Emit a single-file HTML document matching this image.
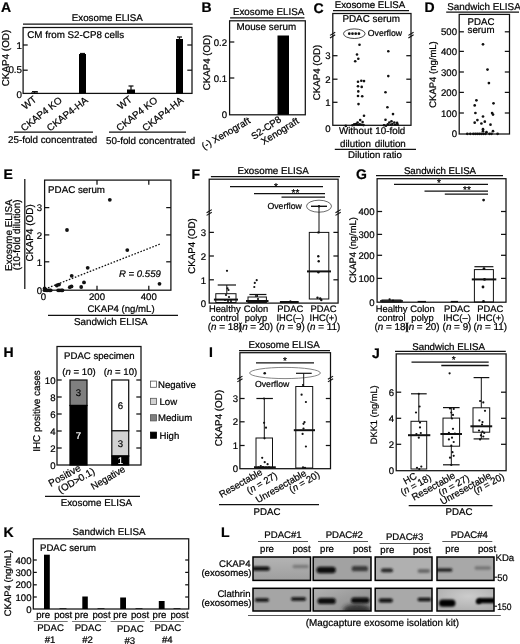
<!DOCTYPE html>
<html lang="en"><head><meta charset="utf-8"><title>Figure</title>
<style>
html,body{margin:0;padding:0;background:#fff;}
body{width:520px;height:644px;overflow:hidden;}
svg{display:block;font-family:"Liberation Sans",Arial,Helvetica,sans-serif;text-rendering:geometricPrecision;}
svg text{stroke:#000;stroke-width:0.22px;}

</style></head><body>
<svg width="520" height="644" viewBox="0 0 520 644">
<rect x="0" y="0" width="520" height="644" fill="#fff" stroke="none"/>
<text x="1.0" y="12.3" font-size="14" font-weight="bold">A</text>
<text x="107.3" y="21.4" font-size="9.75" text-anchor="middle">Exosome ELISA</text>
<line x1="23.0" y1="24.1" x2="192.6" y2="24.1" stroke="#111" stroke-width="1.25" />
<rect x="23.1" y="27.5" width="168.9" height="65.9" fill="none" stroke="#111" stroke-width="1.25"/>
<text x="27.3" y="37.7" font-size="9.8">CM from S2-CP8 cells</text>
<text x="9.0" y="58.0" font-size="9.9" text-anchor="middle" transform="rotate(-90 9.0 58.0)">CKAP4 (OD)</text>
<line x1="23.0" y1="45.0" x2="27.7" y2="45.0" stroke="#111" stroke-width="1.25" />
<line x1="187.3" y1="45.0" x2="192.0" y2="45.0" stroke="#111" stroke-width="1.25" />
<line x1="23.0" y1="70.2" x2="27.7" y2="70.2" stroke="#111" stroke-width="1.25" />
<line x1="187.3" y1="70.2" x2="192.0" y2="70.2" stroke="#111" stroke-width="1.25" />
<text x="22.0" y="48.6" font-size="9.8" text-anchor="end">1</text>
<text x="22.0" y="73.2" font-size="9.8" text-anchor="end">0.5</text>
<text x="22.0" y="97.5" font-size="9.8" text-anchor="end">0</text>
<rect x="79.0" y="54.0" width="7.0" height="39.5" fill="#000" stroke="none" stroke-width="1.25"/>
<line x1="80.0" y1="53.5" x2="85.0" y2="53.5" stroke="#111" stroke-width="1.25" />
<rect x="31.0" y="92.5" width="7.0" height="1.0" fill="#000" stroke="none" stroke-width="1.25"/>
<line x1="34.5" y1="91.5" x2="34.5" y2="93.0" stroke="#111" stroke-width="1.25" />
<line x1="32.0" y1="91.6" x2="37.8" y2="91.6" stroke="#111" stroke-width="1.25" />
<rect x="127.0" y="89.5" width="8.0" height="4.0" fill="#000" stroke="none" stroke-width="1.25"/>
<line x1="131.0" y1="86.0" x2="131.0" y2="90.0" stroke="#111" stroke-width="1.25" />
<line x1="128.5" y1="86.0" x2="133.5" y2="86.0" stroke="#111" stroke-width="1.25" />
<rect x="176.0" y="39.0" width="7.0" height="54.5" fill="#000" stroke="none" stroke-width="1.25"/>
<line x1="179.5" y1="37.0" x2="179.5" y2="40.0" stroke="#111" stroke-width="1.25" />
<line x1="177.0" y1="37.0" x2="182.0" y2="37.0" stroke="#111" stroke-width="1.25" />
<text x="37.3" y="100.5" font-size="9.8" text-anchor="end" transform="rotate(-38 37.3 100.5)">WT</text>
<text x="62.7" y="101.5" font-size="9.8" text-anchor="end" transform="rotate(-38 62.7 101.5)">CKAP4 KO</text>
<text x="88.7" y="101.5" font-size="9.8" text-anchor="end" transform="rotate(-38 88.7 101.5)">CKAP4-HA</text>
<text x="132.8" y="100.5" font-size="9.8" text-anchor="end" transform="rotate(-38 132.8 100.5)">WT</text>
<text x="158.2" y="101.5" font-size="9.8" text-anchor="end" transform="rotate(-38 158.2 101.5)">CKAP4 KO</text>
<text x="184.2" y="101.5" font-size="9.8" text-anchor="end" transform="rotate(-38 184.2 101.5)">CKAP4-HA</text>
<line x1="14.0" y1="132.0" x2="93.0" y2="132.0" stroke="#111" stroke-width="1.25" />
<line x1="109.0" y1="132.0" x2="186.0" y2="132.0" stroke="#111" stroke-width="1.25" />
<text x="8.0" y="143.0" font-size="9.8">25-fold concentrated</text>
<text x="106.0" y="143.5" font-size="9.8">50-fold concentrated</text>
<text x="201.5" y="11.9" font-size="14" font-weight="bold">B</text>
<text x="268.6" y="14.7" font-size="9.8" text-anchor="middle">Exosome ELISA</text>
<line x1="230.1" y1="17.9" x2="304.5" y2="17.9" stroke="#111" stroke-width="1.25" />
<rect x="229.6" y="20.8" width="75.7" height="94.0" fill="none" stroke="#111" stroke-width="1.25"/>
<text x="266.3" y="29.6" font-size="9.85" text-anchor="middle">Mouse serum</text>
<text x="209.5" y="62.5" font-size="9.7" text-anchor="middle" transform="rotate(-90 209.5 62.5)">CKAP4 (OD)</text>
<line x1="229.6" y1="42.0" x2="234.3" y2="42.0" stroke="#111" stroke-width="1.25" />
<line x1="229.6" y1="78.0" x2="234.3" y2="78.0" stroke="#111" stroke-width="1.25" />
<text x="227.0" y="45.5" font-size="9.6" text-anchor="end">0.2</text>
<text x="227.0" y="81.5" font-size="9.6" text-anchor="end">0.1</text>
<text x="227.0" y="118.3" font-size="9.6" text-anchor="end">0</text>
<rect x="277.5" y="35.5" width="11.5" height="79.3" fill="#000" stroke="none" stroke-width="1.25"/>
<text x="251.0" y="122.5" font-size="9.7" text-anchor="end" transform="rotate(-30 251.0 122.5)">(-) Xenograft</text>
<text x="282.0" y="121.0" font-size="9.7" text-anchor="end" transform="rotate(-34 282.0 121.0)">S2-CP8</text>
<text x="299.5" y="122.7" font-size="9.7" text-anchor="end" transform="rotate(-32 299.5 122.7)">Xenograft</text>
<text x="313.5" y="12.5" font-size="14" font-weight="bold">C</text>
<text x="370.0" y="7.5" font-size="9.7" text-anchor="middle">Exosome ELISA</text>
<line x1="333.0" y1="10.6" x2="409.0" y2="10.6" stroke="#111" stroke-width="1.25" />
<rect x="332.8" y="13.5" width="78.2" height="111.8" fill="none" stroke="#111" stroke-width="1.25"/>
<text x="371.2" y="22.4" font-size="9.9" text-anchor="middle">PDAC serum</text>
<text x="319.5" y="72.5" font-size="9.7" text-anchor="middle" transform="rotate(-90 319.5 72.5)">CKAP4 (OD)</text>
<line x1="332.8" y1="55.7" x2="337.5" y2="55.7" stroke="#111" stroke-width="1.25" />
<line x1="406.3" y1="55.7" x2="411.0" y2="55.7" stroke="#111" stroke-width="1.25" />
<line x1="332.8" y1="79.2" x2="337.5" y2="79.2" stroke="#111" stroke-width="1.25" />
<line x1="406.3" y1="79.2" x2="411.0" y2="79.2" stroke="#111" stroke-width="1.25" />
<line x1="332.8" y1="102.3" x2="337.5" y2="102.3" stroke="#111" stroke-width="1.25" />
<line x1="406.3" y1="102.3" x2="411.0" y2="102.3" stroke="#111" stroke-width="1.25" />
<line x1="330.0" y1="35.4" x2="335.2" y2="32.2" stroke="#111" stroke-width="1.1" />
<line x1="330.0" y1="38.0" x2="335.2" y2="34.8" stroke="#111" stroke-width="1.1" />
<line x1="408.4" y1="35.4" x2="413.6" y2="32.2" stroke="#111" stroke-width="1.1" />
<line x1="408.4" y1="38.0" x2="413.6" y2="34.8" stroke="#111" stroke-width="1.1" />
<text x="330.6" y="59.3" font-size="9.6" text-anchor="end">3</text>
<text x="330.6" y="82.8" font-size="9.6" text-anchor="end">2</text>
<text x="330.6" y="106.0" font-size="9.6" text-anchor="end">1</text>
<text x="330.6" y="131.6" font-size="9.6" text-anchor="end">0</text>
<ellipse cx="354.3" cy="33.7" rx="10.8" ry="4.8" fill="none" stroke="#333" stroke-width="0.9"/>
<circle cx="349.3" cy="33.7" r="1.35" fill="#111"/>
<circle cx="352.5" cy="33.7" r="1.35" fill="#111"/>
<circle cx="355.7" cy="33.7" r="1.35" fill="#111"/>
<circle cx="358.9" cy="33.7" r="1.35" fill="#111"/>
<text x="367.8" y="35.8" font-size="8.7">Overflow</text>
<circle cx="359.5" cy="44.8" r="1.3" fill="#111"/>
<circle cx="357.0" cy="54.5" r="1.3" fill="#111"/>
<circle cx="358.3" cy="58.8" r="1.3" fill="#111"/>
<circle cx="355.2" cy="61.2" r="1.3" fill="#111"/>
<circle cx="358.0" cy="81.7" r="1.3" fill="#111"/>
<circle cx="361.3" cy="80.8" r="1.3" fill="#111"/>
<circle cx="364.0" cy="81.1" r="1.3" fill="#111"/>
<circle cx="358.0" cy="86.2" r="1.3" fill="#111"/>
<circle cx="361.7" cy="86.9" r="1.3" fill="#111"/>
<circle cx="358.3" cy="91.4" r="1.3" fill="#111"/>
<circle cx="358.0" cy="96.0" r="1.3" fill="#111"/>
<circle cx="362.2" cy="96.2" r="1.3" fill="#111"/>
<circle cx="358.5" cy="104.1" r="1.3" fill="#111"/>
<circle cx="364.0" cy="115.7" r="1.3" fill="#111"/>
<circle cx="360.2" cy="120.1" r="1.3" fill="#111"/>
<circle cx="362.6" cy="122.0" r="1.3" fill="#111"/>
<circle cx="357.6" cy="122.5" r="1.3" fill="#111"/>
<circle cx="354.2" cy="124.4" r="1.3" fill="#111"/>
<circle cx="356.0" cy="124.0" r="1.3" fill="#111"/>
<circle cx="358.0" cy="124.7" r="1.3" fill="#111"/>
<circle cx="359.8" cy="124.4" r="1.3" fill="#111"/>
<circle cx="361.7" cy="124.7" r="1.3" fill="#111"/>
<circle cx="352.4" cy="125.3" r="1.3" fill="#111"/>
<circle cx="363.5" cy="125.1" r="1.3" fill="#111"/>
<circle cx="345.8" cy="125.9" r="1.3" fill="#111"/>
<circle cx="388.3" cy="51.3" r="1.3" fill="#111"/>
<circle cx="388.3" cy="76.1" r="1.3" fill="#111"/>
<circle cx="385.5" cy="92.3" r="1.3" fill="#111"/>
<circle cx="387.4" cy="107.2" r="1.3" fill="#111"/>
<circle cx="393.0" cy="114.1" r="1.3" fill="#111"/>
<circle cx="385.5" cy="119.7" r="1.3" fill="#111"/>
<circle cx="391.5" cy="121.2" r="1.3" fill="#111"/>
<circle cx="389.3" cy="122.5" r="1.3" fill="#111"/>
<circle cx="394.3" cy="122.5" r="1.3" fill="#111"/>
<circle cx="397.1" cy="122.9" r="1.3" fill="#111"/>
<circle cx="387.8" cy="124.4" r="1.3" fill="#111"/>
<circle cx="390.6" cy="124.7" r="1.3" fill="#111"/>
<circle cx="392.4" cy="124.0" r="1.3" fill="#111"/>
<circle cx="395.2" cy="124.7" r="1.3" fill="#111"/>
<circle cx="397.5" cy="124.4" r="1.3" fill="#111"/>
<circle cx="384.0" cy="125.3" r="1.3" fill="#111"/>
<circle cx="386.0" cy="125.7" r="1.3" fill="#111"/>
<text x="355.5" y="134.4" font-size="9.8" text-anchor="middle">Without</text>
<text x="390.3" y="134.4" font-size="9.8" text-anchor="middle">10-fold</text>
<text x="355.5" y="147.0" font-size="9.8" text-anchor="middle">dilution</text>
<text x="390.3" y="147.0" font-size="9.8" text-anchor="middle">dilution</text>
<line x1="334.8" y1="149.3" x2="416.0" y2="149.3" stroke="#111" stroke-width="1.25" />
<text x="375.0" y="157.7" font-size="9.7" text-anchor="middle">Dilution ratio</text>
<text x="424.5" y="11.6" font-size="14" font-weight="bold">D</text>
<text x="447.2" y="9.5" font-size="9.9">Sandwich ELISA</text>
<line x1="446.2" y1="12.1" x2="519.0" y2="12.1" stroke="#111" stroke-width="1.25" />
<rect x="459.2" y="14.4" width="50.3" height="119.6" fill="none" stroke="#111" stroke-width="1.25"/>
<text x="481.0" y="24.9" font-size="9.7" text-anchor="middle">PDAC</text>
<text x="481.0" y="32.6" font-size="9.7" text-anchor="middle">serum</text>
<text x="436.0" y="74.5" font-size="9.5" text-anchor="middle" transform="rotate(-90 436.0 74.5)">CKAP4 (ng/mL)</text>
<line x1="459.2" y1="31.8" x2="463.9" y2="31.8" stroke="#111" stroke-width="1.25" />
<line x1="504.8" y1="31.8" x2="509.5" y2="31.8" stroke="#111" stroke-width="1.25" />
<line x1="459.2" y1="51.4" x2="463.9" y2="51.4" stroke="#111" stroke-width="1.25" />
<line x1="504.8" y1="51.4" x2="509.5" y2="51.4" stroke="#111" stroke-width="1.25" />
<line x1="459.2" y1="72.0" x2="463.9" y2="72.0" stroke="#111" stroke-width="1.25" />
<line x1="504.8" y1="72.0" x2="509.5" y2="72.0" stroke="#111" stroke-width="1.25" />
<line x1="459.2" y1="92.4" x2="463.9" y2="92.4" stroke="#111" stroke-width="1.25" />
<line x1="504.8" y1="92.4" x2="509.5" y2="92.4" stroke="#111" stroke-width="1.25" />
<line x1="459.2" y1="113.0" x2="463.9" y2="113.0" stroke="#111" stroke-width="1.25" />
<line x1="504.8" y1="113.0" x2="509.5" y2="113.0" stroke="#111" stroke-width="1.25" />
<text x="457.0" y="35.3" font-size="9.6" text-anchor="end">500</text>
<text x="457.0" y="54.9" font-size="9.6" text-anchor="end">400</text>
<text x="457.0" y="75.5" font-size="9.6" text-anchor="end">300</text>
<text x="457.0" y="95.9" font-size="9.6" text-anchor="end">200</text>
<text x="457.0" y="116.5" font-size="9.6" text-anchor="end">100</text>
<text x="457.0" y="137.3" font-size="9.6" text-anchor="end">0</text>
<circle cx="483.0" cy="44.3" r="1.35" fill="#111"/>
<circle cx="487.5" cy="69.6" r="1.35" fill="#111"/>
<circle cx="488.9" cy="83.1" r="1.35" fill="#111"/>
<circle cx="476.4" cy="100.3" r="1.35" fill="#111"/>
<circle cx="493.5" cy="103.3" r="1.35" fill="#111"/>
<circle cx="474.7" cy="105.4" r="1.35" fill="#111"/>
<circle cx="475.4" cy="113.0" r="1.35" fill="#111"/>
<circle cx="492.1" cy="113.0" r="1.35" fill="#111"/>
<circle cx="493.0" cy="114.6" r="1.35" fill="#111"/>
<circle cx="483.0" cy="116.5" r="1.35" fill="#111"/>
<circle cx="477.4" cy="120.1" r="1.35" fill="#111"/>
<circle cx="474.7" cy="122.7" r="1.35" fill="#111"/>
<circle cx="484.8" cy="121.7" r="1.35" fill="#111"/>
<circle cx="481.4" cy="123.5" r="1.35" fill="#111"/>
<circle cx="490.5" cy="124.7" r="1.35" fill="#111"/>
<circle cx="483.0" cy="129.2" r="1.35" fill="#111"/>
<circle cx="483.0" cy="131.2" r="1.35" fill="#111"/>
<circle cx="493.0" cy="131.2" r="1.35" fill="#111"/>
<circle cx="486.5" cy="132.2" r="1.35" fill="#111"/>
<circle cx="467.3" cy="133.8" r="1.35" fill="#111"/>
<circle cx="470.3" cy="133.8" r="1.35" fill="#111"/>
<circle cx="473.3" cy="133.8" r="1.35" fill="#111"/>
<circle cx="475.4" cy="133.8" r="1.35" fill="#111"/>
<circle cx="477.4" cy="133.8" r="1.35" fill="#111"/>
<circle cx="479.4" cy="133.8" r="1.35" fill="#111"/>
<circle cx="481.4" cy="133.8" r="1.35" fill="#111"/>
<circle cx="483.4" cy="133.8" r="1.35" fill="#111"/>
<circle cx="485.5" cy="133.8" r="1.35" fill="#111"/>
<circle cx="489.5" cy="133.8" r="1.35" fill="#111"/>
<circle cx="491.5" cy="133.8" r="1.35" fill="#111"/>
<circle cx="497.6" cy="133.8" r="1.35" fill="#111"/>
<text x="3.5" y="178.7" font-size="14" font-weight="bold">E</text>
<line x1="24.8" y1="179.0" x2="24.8" y2="289.0" stroke="#111" stroke-width="1.25" />
<text x="11.8" y="235.2" font-size="9.85" text-anchor="middle" transform="rotate(-90 11.8 235.2)">Exosome ELISA</text>
<text x="20.2" y="234.8" font-size="9.9" text-anchor="middle" transform="rotate(-90 20.2 234.8)">(10-fold dilution)</text>
<text x="33.3" y="232.8" font-size="10" text-anchor="middle" transform="rotate(-90 33.3 232.8)">CKAP4 (OD)</text>
<rect x="44.6" y="180.1" width="126.3" height="110.1" fill="none" stroke="#111" stroke-width="1.25"/>
<line x1="44.6" y1="207.6" x2="49.3" y2="207.6" stroke="#111" stroke-width="1.25" />
<line x1="166.2" y1="207.6" x2="170.9" y2="207.6" stroke="#111" stroke-width="1.25" />
<line x1="44.6" y1="234.9" x2="49.3" y2="234.9" stroke="#111" stroke-width="1.25" />
<line x1="166.2" y1="234.9" x2="170.9" y2="234.9" stroke="#111" stroke-width="1.25" />
<line x1="44.6" y1="261.8" x2="49.3" y2="261.8" stroke="#111" stroke-width="1.25" />
<line x1="166.2" y1="261.8" x2="170.9" y2="261.8" stroke="#111" stroke-width="1.25" />
<line x1="97.0" y1="180.0" x2="97.0" y2="184.7" stroke="#111" stroke-width="1.25" />
<line x1="97.0" y1="285.8" x2="97.0" y2="290.5" stroke="#111" stroke-width="1.25" />
<line x1="148.8" y1="180.0" x2="148.8" y2="184.7" stroke="#111" stroke-width="1.25" />
<line x1="148.8" y1="285.8" x2="148.8" y2="290.5" stroke="#111" stroke-width="1.25" />
<text x="42.0" y="211.0" font-size="9.6" text-anchor="end">3</text>
<text x="42.0" y="238.5" font-size="9.6" text-anchor="end">2</text>
<text x="42.0" y="265.5" font-size="9.6" text-anchor="end">1</text>
<text x="42.0" y="294.0" font-size="9.6" text-anchor="end">0</text>
<text x="43.5" y="300.3" font-size="9.6" text-anchor="middle">0</text>
<text x="97.0" y="299.5" font-size="9.6" text-anchor="middle">200</text>
<text x="148.8" y="299.5" font-size="9.6" text-anchor="middle">400</text>
<text x="48.1" y="193.3" font-size="9.75">PDAC serum</text>
<line x1="45.0" y1="289.0" x2="160.7" y2="243.8" stroke="#111" stroke-width="1.3" stroke-dasharray="1.6 1.6"/>
<text x="119.0" y="276.5" font-size="9.6" font-style="italic">R = 0.559</text>
<circle cx="109.8" cy="199.8" r="1.9" fill="#111"/>
<circle cx="67.0" cy="230.0" r="1.9" fill="#111"/>
<circle cx="127.3" cy="250.1" r="1.9" fill="#111"/>
<circle cx="159.5" cy="283.8" r="1.9" fill="#111"/>
<circle cx="87.7" cy="267.8" r="1.9" fill="#111"/>
<circle cx="71.7" cy="275.8" r="1.9" fill="#111"/>
<circle cx="84.0" cy="282.4" r="1.9" fill="#111"/>
<circle cx="81.2" cy="287.0" r="1.9" fill="#111"/>
<circle cx="59.0" cy="284.6" r="1.9" fill="#111"/>
<circle cx="56.8" cy="285.5" r="1.9" fill="#111"/>
<circle cx="71.5" cy="286.4" r="1.9" fill="#111"/>
<circle cx="69.8" cy="287.2" r="1.9" fill="#111"/>
<circle cx="58.2" cy="290.3" r="1.9" fill="#111"/>
<circle cx="59.9" cy="290.3" r="1.9" fill="#111"/>
<circle cx="61.6" cy="290.3" r="1.9" fill="#111"/>
<circle cx="62.5" cy="290.3" r="1.9" fill="#111"/>
<circle cx="44.6" cy="288.4" r="1.9" fill="#111"/>
<circle cx="45.4" cy="289.3" r="1.9" fill="#111"/>
<circle cx="44.5" cy="290.2" r="1.9" fill="#111"/>
<circle cx="46.2" cy="290.3" r="1.9" fill="#111"/>
<circle cx="47.8" cy="290.3" r="1.9" fill="#111"/>
<circle cx="49.5" cy="290.3" r="1.9" fill="#111"/>
<circle cx="50.7" cy="290.3" r="1.9" fill="#111"/>
<text x="121.0" y="311.5" font-size="9.6" text-anchor="middle">CKAP4 (ng/mL)</text>
<line x1="48.0" y1="315.3" x2="178.0" y2="315.3" stroke="#111" stroke-width="1.25" />
<text x="110.8" y="324.5" font-size="9.9" text-anchor="middle">Sandwich ELISA</text>
<text x="191.5" y="178.7" font-size="14" font-weight="bold">F</text>
<text x="273.1" y="173.7" font-size="9.8" text-anchor="middle">Exosome ELISA</text>
<line x1="210.9" y1="176.5" x2="340.0" y2="176.5" stroke="#111" stroke-width="1.25" />
<rect x="209.2" y="179.2" width="128.9" height="123.9" fill="none" stroke="#111" stroke-width="1.25"/>
<text x="195.0" y="246.0" font-size="9.7" text-anchor="middle" transform="rotate(-90 195.0 246.0)">CKAP4 (OD)</text>
<line x1="209.2" y1="232.4" x2="213.9" y2="232.4" stroke="#111" stroke-width="1.25" />
<line x1="333.4" y1="232.4" x2="338.1" y2="232.4" stroke="#111" stroke-width="1.25" />
<line x1="209.2" y1="256.0" x2="213.9" y2="256.0" stroke="#111" stroke-width="1.25" />
<line x1="333.4" y1="256.0" x2="338.1" y2="256.0" stroke="#111" stroke-width="1.25" />
<line x1="209.2" y1="279.8" x2="213.9" y2="279.8" stroke="#111" stroke-width="1.25" />
<line x1="333.4" y1="279.8" x2="338.1" y2="279.8" stroke="#111" stroke-width="1.25" />
<line x1="206.6" y1="212.8" x2="211.8" y2="209.6" stroke="#111" stroke-width="1.1" />
<line x1="206.6" y1="215.4" x2="211.8" y2="212.2" stroke="#111" stroke-width="1.1" />
<line x1="335.5" y1="212.8" x2="340.7" y2="209.6" stroke="#111" stroke-width="1.1" />
<line x1="335.5" y1="215.4" x2="340.7" y2="212.2" stroke="#111" stroke-width="1.1" />
<text x="206.0" y="236.0" font-size="9.6" text-anchor="end">3</text>
<text x="206.0" y="259.5" font-size="9.6" text-anchor="end">2</text>
<text x="206.0" y="283.5" font-size="9.6" text-anchor="end">1</text>
<text x="206.0" y="306.5" font-size="9.6" text-anchor="end">0</text>
<line x1="230.0" y1="186.6" x2="323.0" y2="186.6" stroke="#111" stroke-width="1.2" />
<line x1="254.0" y1="193.6" x2="325.0" y2="193.6" stroke="#111" stroke-width="1.2" />
<line x1="281.5" y1="197.2" x2="325.0" y2="197.2" stroke="#111" stroke-width="1.2" />
<text x="276.0" y="189.6" font-size="10" text-anchor="middle">*</text>
<text x="295.5" y="195.5" font-size="10" text-anchor="middle">**</text>
<ellipse cx="319.0" cy="206.2" rx="12.5" ry="6.0" fill="none" stroke="#444" stroke-width="0.8"/>
<text x="267.5" y="209.0" font-size="8.7">Overflow</text>
<rect x="215.8" y="293.7" width="20.2" height="8.8" fill="none" stroke="#111" stroke-width="1.0"/>
<line x1="213.9" y1="299.6" x2="238.0" y2="299.6" stroke="#111" stroke-width="2" />
<line x1="217.7" y1="285.0" x2="236.0" y2="285.0" stroke="#111" stroke-width="1.2" />
<line x1="226.8" y1="285.0" x2="226.8" y2="293.7" stroke="#111" stroke-width="1.0" />
<circle cx="227.0" cy="270.8" r="1.1" fill="#111"/>
<circle cx="227.5" cy="288.3" r="1.1" fill="#111"/>
<circle cx="228.5" cy="290.0" r="1.1" fill="#111"/>
<circle cx="226.0" cy="295.0" r="1.1" fill="#111"/>
<circle cx="229.0" cy="297.0" r="1.1" fill="#111"/>
<circle cx="225.0" cy="300.0" r="1.1" fill="#111"/>
<circle cx="228.0" cy="301.0" r="1.1" fill="#111"/>
<circle cx="231.0" cy="301.0" r="1.1" fill="#111"/>
<rect x="248.0" y="297.0" width="18.4" height="5.5" fill="none" stroke="#111" stroke-width="1.0"/>
<line x1="246.0" y1="301.0" x2="268.5" y2="301.0" stroke="#111" stroke-width="2" />
<line x1="249.4" y1="294.5" x2="266.4" y2="294.5" stroke="#111" stroke-width="1.2" />
<line x1="257.5" y1="294.5" x2="257.5" y2="297.0" stroke="#111" stroke-width="1.0" />
<circle cx="256.7" cy="280.2" r="1.1" fill="#111"/>
<circle cx="254.8" cy="282.9" r="1.1" fill="#111"/>
<circle cx="254.3" cy="287.0" r="1.1" fill="#111"/>
<circle cx="256.0" cy="296.0" r="1.1" fill="#111"/>
<circle cx="258.0" cy="299.0" r="1.1" fill="#111"/>
<circle cx="255.0" cy="301.0" r="1.1" fill="#111"/>
<circle cx="260.0" cy="301.5" r="1.1" fill="#111"/>
<line x1="279.9" y1="302.0" x2="298.7" y2="302.0" stroke="#111" stroke-width="2" />
<circle cx="290.4" cy="301.3" r="1.1" fill="#111"/>
<rect x="309.3" y="232.4" width="19.5" height="66.6" fill="none" stroke="#111" stroke-width="1.0"/>
<line x1="307.0" y1="271.4" x2="331.0" y2="271.4" stroke="#111" stroke-width="2" />
<line x1="311.0" y1="206.3" x2="327.0" y2="206.3" stroke="#111" stroke-width="1.4" />
<line x1="319.0" y1="206.3" x2="319.0" y2="232.4" stroke="#111" stroke-width="1.0" />
<circle cx="319.0" cy="206.3" r="1.2" fill="#111"/>
<circle cx="318.5" cy="232.4" r="1.2" fill="#111"/>
<circle cx="318.3" cy="256.3" r="1.2" fill="#111"/>
<circle cx="318.7" cy="261.3" r="1.2" fill="#111"/>
<circle cx="318.4" cy="272.2" r="1.2" fill="#111"/>
<circle cx="317.5" cy="297.7" r="1.2" fill="#111"/>
<circle cx="320.2" cy="298.5" r="1.2" fill="#111"/>
<circle cx="321.3" cy="300.0" r="1.2" fill="#111"/>
<text x="224.8" y="311.8" font-size="9.4" text-anchor="middle">Healthy</text>
<text x="224.8" y="320.9" font-size="9.4" text-anchor="middle">control</text>
<text x="224.8" y="329.8" font-size="9.9" text-anchor="middle">(<tspan font-style="italic">n</tspan> = 18)</text>
<text x="256.0" y="311.8" font-size="9.4" text-anchor="middle">Colon</text>
<text x="256.0" y="320.9" font-size="9.4" text-anchor="middle">polyp</text>
<text x="256.0" y="329.8" font-size="9.9" text-anchor="middle">(<tspan font-style="italic">n</tspan> = 20)</text>
<text x="290.3" y="311.8" font-size="9.4" text-anchor="middle">PDAC</text>
<text x="290.3" y="320.9" font-size="9.4" text-anchor="middle">IHC(–)</text>
<text x="290.3" y="329.8" font-size="9.9" text-anchor="middle">(<tspan font-style="italic">n</tspan> = 9)</text>
<text x="323.5" y="311.8" font-size="9.4" text-anchor="middle">PDAC</text>
<text x="323.5" y="320.9" font-size="9.4" text-anchor="middle">IHC(+)</text>
<text x="323.5" y="329.8" font-size="9.9" text-anchor="middle">(<tspan font-style="italic">n</tspan> = 11)</text>
<text x="356.0" y="178.8" font-size="14" font-weight="bold">G</text>
<text x="440.0" y="173.9" font-size="9.7" text-anchor="middle">Sandwich ELISA</text>
<line x1="376.0" y1="175.5" x2="503.0" y2="175.5" stroke="#111" stroke-width="1.25" />
<rect x="377.1" y="178.7" width="128.9" height="123.5" fill="none" stroke="#111" stroke-width="1.25"/>
<text x="355.5" y="250.0" font-size="9.4" text-anchor="middle" transform="rotate(-90 355.5 250.0)">CKAP4 (ng/mL)</text>
<line x1="377.1" y1="211.5" x2="382.1" y2="211.5" stroke="#111" stroke-width="1.25" />
<line x1="501.0" y1="211.5" x2="506.0" y2="211.5" stroke="#111" stroke-width="1.25" />
<line x1="377.1" y1="234.4" x2="382.1" y2="234.4" stroke="#111" stroke-width="1.25" />
<line x1="501.0" y1="234.4" x2="506.0" y2="234.4" stroke="#111" stroke-width="1.25" />
<line x1="377.1" y1="255.3" x2="382.1" y2="255.3" stroke="#111" stroke-width="1.25" />
<line x1="501.0" y1="255.3" x2="506.0" y2="255.3" stroke="#111" stroke-width="1.25" />
<line x1="377.1" y1="278.4" x2="382.1" y2="278.4" stroke="#111" stroke-width="1.25" />
<line x1="501.0" y1="278.4" x2="506.0" y2="278.4" stroke="#111" stroke-width="1.25" />
<text x="374.5" y="215.0" font-size="9.6" text-anchor="end">400</text>
<text x="374.5" y="237.9" font-size="9.6" text-anchor="end">300</text>
<text x="374.5" y="258.8" font-size="9.6" text-anchor="end">200</text>
<text x="374.5" y="281.9" font-size="9.6" text-anchor="end">100</text>
<text x="374.5" y="305.5" font-size="9.6" text-anchor="end">0</text>
<line x1="394.0" y1="184.4" x2="488.0" y2="184.4" stroke="#111" stroke-width="1.3" />
<line x1="424.5" y1="191.2" x2="488.0" y2="191.2" stroke="#111" stroke-width="1.3" />
<line x1="444.8" y1="194.2" x2="488.0" y2="194.2" stroke="#111" stroke-width="1.3" />
<text x="439.0" y="186.3" font-size="10" text-anchor="middle">*</text>
<text x="467.0" y="192.7" font-size="10" text-anchor="middle">**</text>
<rect x="474.4" y="269.6" width="19.0" height="32.4" fill="none" stroke="#111" stroke-width="1.0"/>
<line x1="474.4" y1="266.7" x2="493.4" y2="266.7" stroke="#111" stroke-width="1.2" />
<line x1="471.8" y1="279.4" x2="496.3" y2="279.4" stroke="#111" stroke-width="2" />
<circle cx="483.6" cy="200.1" r="1.4" fill="#111"/>
<circle cx="484.0" cy="268.7" r="1.4" fill="#111"/>
<circle cx="484.5" cy="279.4" r="1.4" fill="#111"/>
<circle cx="483.0" cy="287.0" r="1.4" fill="#111"/>
<circle cx="483.5" cy="301.5" r="1.4" fill="#111"/>
<rect x="382.0" y="300.0" width="19.0" height="2.0" fill="none" stroke="#111" stroke-width="1.0"/>
<line x1="380.0" y1="301.0" x2="403.0" y2="301.0" stroke="#111" stroke-width="1.6" />
<circle cx="389.6" cy="299.3" r="1.1" fill="#111"/>
<circle cx="393.0" cy="300.6" r="1.1" fill="#111"/>
<line x1="417.6" y1="301.6" x2="426.0" y2="301.6" stroke="#111" stroke-width="1.4" />
<line x1="450.8" y1="301.6" x2="458.0" y2="301.6" stroke="#111" stroke-width="1.4" />
<text x="391.6" y="311.5" font-size="9.4" text-anchor="middle">Healthy</text>
<text x="391.6" y="320.8" font-size="9.4" text-anchor="middle">control</text>
<text x="391.6" y="329.9" font-size="9.9" text-anchor="middle">(<tspan font-style="italic">n</tspan> = 18)</text>
<text x="422.5" y="311.5" font-size="9.4" text-anchor="middle">Colon</text>
<text x="422.5" y="320.8" font-size="9.4" text-anchor="middle">polyp</text>
<text x="422.5" y="329.9" font-size="9.9" text-anchor="middle">(<tspan font-style="italic">n</tspan> = 20)</text>
<text x="457.0" y="311.5" font-size="9.4" text-anchor="middle">PDAC</text>
<text x="457.0" y="320.8" font-size="9.4" text-anchor="middle">IHC(–)</text>
<text x="457.0" y="329.9" font-size="9.9" text-anchor="middle">(<tspan font-style="italic">n</tspan> = 9)</text>
<text x="490.3" y="311.5" font-size="9.4" text-anchor="middle">PDAC</text>
<text x="490.3" y="320.8" font-size="9.4" text-anchor="middle">IHC(+)</text>
<text x="490.3" y="329.9" font-size="9.9" text-anchor="middle">(<tspan font-style="italic">n</tspan> = 11)</text>
<text x="3.5" y="357.0" font-size="14" font-weight="bold">H</text>
<rect x="57.0" y="346.5" width="84.0" height="118.5" fill="none" stroke="#111" stroke-width="1.25"/>
<text x="40.0" y="411.0" font-size="9.85" text-anchor="middle" transform="rotate(-90 40.0 411.0)">IHC positive cases</text>
<line x1="57.0" y1="380.0" x2="61.7" y2="380.0" stroke="#111" stroke-width="1.25" />
<line x1="136.3" y1="380.0" x2="141.0" y2="380.0" stroke="#111" stroke-width="1.25" />
<line x1="57.0" y1="397.0" x2="61.7" y2="397.0" stroke="#111" stroke-width="1.25" />
<line x1="136.3" y1="397.0" x2="141.0" y2="397.0" stroke="#111" stroke-width="1.25" />
<line x1="57.0" y1="414.0" x2="61.7" y2="414.0" stroke="#111" stroke-width="1.25" />
<line x1="136.3" y1="414.0" x2="141.0" y2="414.0" stroke="#111" stroke-width="1.25" />
<line x1="57.0" y1="431.0" x2="61.7" y2="431.0" stroke="#111" stroke-width="1.25" />
<line x1="136.3" y1="431.0" x2="141.0" y2="431.0" stroke="#111" stroke-width="1.25" />
<line x1="57.0" y1="448.0" x2="61.7" y2="448.0" stroke="#111" stroke-width="1.25" />
<line x1="136.3" y1="448.0" x2="141.0" y2="448.0" stroke="#111" stroke-width="1.25" />
<text x="55.5" y="383.5" font-size="9.6" text-anchor="end">10</text>
<text x="55.5" y="400.5" font-size="9.6" text-anchor="end">8</text>
<text x="55.5" y="417.5" font-size="9.6" text-anchor="end">6</text>
<text x="55.5" y="434.5" font-size="9.6" text-anchor="end">4</text>
<text x="55.5" y="451.5" font-size="9.6" text-anchor="end">2</text>
<text x="55.5" y="468.5" font-size="9.6" text-anchor="end">0</text>
<text x="99.3" y="359.0" font-size="9.6" text-anchor="middle">PDAC specimen</text>
<text x="79.0" y="374.5" font-size="9.6" text-anchor="middle">(<tspan font-style="italic">n</tspan> = 10)</text>
<text x="120.5" y="374.5" font-size="9.6" text-anchor="middle">(<tspan font-style="italic">n</tspan> = 10)</text>
<rect x="70.0" y="380.0" width="17.0" height="25.5" fill="#7f7f7f" stroke="#111" stroke-width="1.25"/>
<rect x="70.0" y="405.5" width="17.0" height="59.5" fill="#000" stroke="#000" stroke-width="1.25"/>
<rect x="111.8" y="380.0" width="16.9" height="50.8" fill="#fff" stroke="#111" stroke-width="1.25"/>
<rect x="111.8" y="430.8" width="16.9" height="25.2" fill="#d2d2d2" stroke="#111" stroke-width="1.25"/>
<rect x="111.8" y="456.0" width="16.9" height="9.0" fill="#000" stroke="#000" stroke-width="1.25"/>
<text x="78.5" y="396.0" font-size="9.6" text-anchor="middle">3</text>
<text x="78.5" y="439.0" font-size="9.6" text-anchor="middle" fill="#fff" style="stroke:#fff">7</text>
<text x="120.3" y="408.5" font-size="9.6" text-anchor="middle">6</text>
<text x="120.3" y="447.0" font-size="9.6" text-anchor="middle">3</text>
<text x="120.3" y="464.0" font-size="9.6" text-anchor="middle" fill="#fff" style="stroke:#fff">1</text>
<rect x="150.4" y="381.1" width="6.2" height="6.2" fill="#fff" stroke="#555" stroke-width="0.8"/>
<text x="158.0" y="387.6" font-size="9.6">Negative</text>
<rect x="150.4" y="398.3" width="6.2" height="6.2" fill="#d2d2d2" stroke="#555" stroke-width="0.8"/>
<text x="159.5" y="404.8" font-size="9.6">Low</text>
<rect x="150.4" y="414.7" width="6.2" height="6.2" fill="#7f7f7f" stroke="#555" stroke-width="0.8"/>
<text x="158.0" y="421.2" font-size="9.6">Medium</text>
<rect x="150.4" y="432.1" width="6.2" height="6.2" fill="#000" stroke="#000" stroke-width="0.8"/>
<text x="159.5" y="438.6" font-size="9.6">High</text>
<text x="81.5" y="470.0" font-size="10" text-anchor="end" transform="rotate(-29 81.5 470.0)">Positive</text>
<text x="95.5" y="473.2" font-size="9.8" text-anchor="end" transform="rotate(-30 95.5 473.2)">(OD&gt;0.1)</text>
<text x="126.0" y="471.0" font-size="9.6" text-anchor="end" transform="rotate(-30 126.0 471.0)">Negative</text>
<line x1="45.0" y1="496.3" x2="140.0" y2="496.3" stroke="#111" stroke-width="1.25" />
<text x="96.3" y="506.0" font-size="9.8" text-anchor="middle">Exosome ELISA</text>
<text x="209.0" y="356.5" font-size="14" font-weight="bold">I</text>
<text x="284.2" y="348.1" font-size="9.8" text-anchor="middle">Exosome ELISA</text>
<line x1="239.0" y1="350.6" x2="330.0" y2="350.6" stroke="#111" stroke-width="1.25" />
<rect x="239.9" y="352.7" width="90.6" height="116.0" fill="none" stroke="#111" stroke-width="1.25"/>
<text x="222.0" y="418.0" font-size="9.85" text-anchor="middle" transform="rotate(-90 222.0 418.0)">CKAP4 (OD)</text>
<line x1="239.9" y1="398.5" x2="244.6" y2="398.5" stroke="#111" stroke-width="1.25" />
<line x1="325.8" y1="398.5" x2="330.5" y2="398.5" stroke="#111" stroke-width="1.25" />
<line x1="239.9" y1="421.8" x2="244.6" y2="421.8" stroke="#111" stroke-width="1.25" />
<line x1="325.8" y1="421.8" x2="330.5" y2="421.8" stroke="#111" stroke-width="1.25" />
<line x1="239.9" y1="445.5" x2="244.6" y2="445.5" stroke="#111" stroke-width="1.25" />
<line x1="325.8" y1="445.5" x2="330.5" y2="445.5" stroke="#111" stroke-width="1.25" />
<line x1="237.3" y1="379.3" x2="242.5" y2="376.1" stroke="#111" stroke-width="1.1" />
<line x1="237.3" y1="381.9" x2="242.5" y2="378.7" stroke="#111" stroke-width="1.1" />
<line x1="327.9" y1="379.3" x2="333.1" y2="376.1" stroke="#111" stroke-width="1.1" />
<line x1="327.9" y1="381.9" x2="333.1" y2="378.7" stroke="#111" stroke-width="1.1" />
<text x="238.0" y="402.0" font-size="9.6" text-anchor="end">3</text>
<text x="238.0" y="425.3" font-size="9.6" text-anchor="end">2</text>
<text x="238.0" y="449.0" font-size="9.6" text-anchor="end">1</text>
<text x="238.0" y="472.4" font-size="9.6" text-anchor="end">0</text>
<line x1="256.0" y1="362.8" x2="314.0" y2="362.8" stroke="#111" stroke-width="1.2" />
<text x="285.0" y="363.5" font-size="10" text-anchor="middle">*</text>
<ellipse cx="285.0" cy="373.0" rx="35.4" ry="5.6" fill="none" stroke="#777" stroke-width="0.9"/>
<circle cx="264.7" cy="373.3" r="1.3" fill="#111"/>
<text x="255.0" y="387.3" font-size="8.7">Overflow</text>
<rect x="256.0" y="438.0" width="16.5" height="30.0" fill="none" stroke="#111" stroke-width="1.0"/>
<line x1="254.0" y1="467.3" x2="275.8" y2="467.3" stroke="#111" stroke-width="2" />
<line x1="264.3" y1="398.5" x2="264.3" y2="438.0" stroke="#111" stroke-width="1.0" />
<line x1="256.4" y1="398.5" x2="272.9" y2="398.5" stroke="#111" stroke-width="1.2" />
<circle cx="264.0" cy="398.5" r="1.1" fill="#111"/>
<circle cx="264.1" cy="422.8" r="1.1" fill="#111"/>
<circle cx="266.0" cy="427.7" r="1.1" fill="#111"/>
<circle cx="264.5" cy="438.3" r="1.1" fill="#111"/>
<circle cx="262.2" cy="457.8" r="1.1" fill="#111"/>
<circle cx="264.7" cy="462.2" r="1.1" fill="#111"/>
<circle cx="267.6" cy="464.2" r="1.1" fill="#111"/>
<circle cx="260.8" cy="466.0" r="1.1" fill="#111"/>
<circle cx="263.0" cy="467.0" r="1.1" fill="#111"/>
<circle cx="266.0" cy="467.5" r="1.1" fill="#111"/>
<circle cx="258.5" cy="467.3" r="1.1" fill="#111"/>
<circle cx="269.0" cy="467.3" r="1.1" fill="#111"/>
<rect x="295.8" y="386.5" width="16.9" height="81.5" fill="none" stroke="#111" stroke-width="1.0"/>
<line x1="293.8" y1="430.2" x2="315.0" y2="430.2" stroke="#111" stroke-width="2" />
<line x1="303.7" y1="373.3" x2="303.7" y2="386.5" stroke="#111" stroke-width="1.0" />
<line x1="296.0" y1="373.3" x2="311.7" y2="373.3" stroke="#111" stroke-width="1.2" />
<circle cx="303.0" cy="385.0" r="1.1" fill="#111"/>
<circle cx="301.6" cy="394.7" r="1.1" fill="#111"/>
<circle cx="305.9" cy="402.0" r="1.1" fill="#111"/>
<circle cx="304.5" cy="422.2" r="1.1" fill="#111"/>
<circle cx="303.5" cy="423.8" r="1.1" fill="#111"/>
<circle cx="303.5" cy="428.6" r="1.1" fill="#111"/>
<circle cx="302.6" cy="433.9" r="1.1" fill="#111"/>
<circle cx="305.9" cy="446.5" r="1.1" fill="#111"/>
<circle cx="303.0" cy="467.3" r="1.1" fill="#111"/>
<circle cx="305.0" cy="467.8" r="1.1" fill="#111"/>
<text x="263.0" y="474.0" font-size="9.6" text-anchor="end" transform="rotate(-30 263.0 474.0)">Resectable</text>
<text x="278.0" y="477.5" font-size="9.6" text-anchor="end" transform="rotate(-30 278.0 477.5)">(<tspan font-style="italic">n</tspan> = 27)</text>
<text x="307.0" y="475.0" font-size="9.6" text-anchor="end" transform="rotate(-30 307.0 475.0)">Unresectable</text>
<text x="320.5" y="476.5" font-size="9.6" text-anchor="end" transform="rotate(-30 320.5 476.5)">(<tspan font-style="italic">n</tspan> = 20)</text>
<line x1="219.0" y1="504.5" x2="319.0" y2="504.5" stroke="#111" stroke-width="1.25" />
<text x="267.0" y="514.6" font-size="9.7" text-anchor="middle">PDAC</text>
<text x="372.0" y="357.5" font-size="14" font-weight="bold">J</text>
<text x="448.6" y="349.6" font-size="9.75" text-anchor="middle">Sandwich ELISA</text>
<line x1="395.0" y1="351.4" x2="505.8" y2="351.4" stroke="#111" stroke-width="1.25" />
<rect x="396.2" y="353.9" width="109.9" height="116.8" fill="none" stroke="#111" stroke-width="1.25"/>
<text x="377.0" y="414.8" font-size="9.3" text-anchor="middle" transform="rotate(-90 377.0 414.8)">DKK1 (ng/mL)</text>
<line x1="396.2" y1="392.2" x2="401.2" y2="392.2" stroke="#111" stroke-width="1.25" />
<line x1="501.0" y1="392.2" x2="506.0" y2="392.2" stroke="#111" stroke-width="1.25" />
<line x1="396.2" y1="418.3" x2="401.2" y2="418.3" stroke="#111" stroke-width="1.25" />
<line x1="501.0" y1="418.3" x2="506.0" y2="418.3" stroke="#111" stroke-width="1.25" />
<line x1="396.2" y1="444.3" x2="401.2" y2="444.3" stroke="#111" stroke-width="1.25" />
<line x1="501.0" y1="444.3" x2="506.0" y2="444.3" stroke="#111" stroke-width="1.25" />
<text x="394.0" y="395.7" font-size="9.6" text-anchor="end">6</text>
<text x="394.0" y="421.8" font-size="9.6" text-anchor="end">4</text>
<text x="394.0" y="447.8" font-size="9.6" text-anchor="end">2</text>
<text x="394.0" y="473.8" font-size="9.6" text-anchor="end">0</text>
<line x1="411.5" y1="362.2" x2="488.7" y2="362.2" stroke="#111" stroke-width="1.3" />
<line x1="441.3" y1="365.5" x2="488.7" y2="365.5" stroke="#111" stroke-width="1.3" />
<text x="453.7" y="363.2" font-size="10" text-anchor="middle">*</text>
<rect x="411.0" y="421.3" width="15.7" height="47.7" fill="none" stroke="#111" stroke-width="1.0"/>
<line x1="408.0" y1="435.2" x2="430.3" y2="435.2" stroke="#111" stroke-width="2" />
<line x1="418.8" y1="393.8" x2="418.8" y2="421.3" stroke="#111" stroke-width="1.0" />
<line x1="411.0" y1="393.8" x2="426.7" y2="393.8" stroke="#111" stroke-width="1.2" />
<circle cx="418.8" cy="393.8" r="1.1" fill="#111"/>
<circle cx="419.6" cy="406.5" r="1.1" fill="#111"/>
<circle cx="416.0" cy="412.5" r="1.1" fill="#111"/>
<circle cx="420.0" cy="422.6" r="1.1" fill="#111"/>
<circle cx="420.0" cy="427.4" r="1.1" fill="#111"/>
<circle cx="420.8" cy="433.0" r="1.1" fill="#111"/>
<circle cx="416.4" cy="434.0" r="1.1" fill="#111"/>
<circle cx="418.8" cy="437.7" r="1.1" fill="#111"/>
<circle cx="417.0" cy="467.8" r="1.1" fill="#111"/>
<circle cx="421.3" cy="466.6" r="1.1" fill="#111"/>
<circle cx="419.3" cy="469.0" r="1.1" fill="#111"/>
<rect x="443.0" y="418.1" width="16.6" height="28.1" fill="none" stroke="#111" stroke-width="1.0"/>
<line x1="440.4" y1="434.0" x2="462.0" y2="434.0" stroke="#111" stroke-width="2" />
<line x1="451.3" y1="407.6" x2="451.3" y2="418.1" stroke="#111" stroke-width="1.0" />
<line x1="451.3" y1="446.2" x2="451.3" y2="464.8" stroke="#111" stroke-width="1.0" />
<line x1="443.0" y1="407.6" x2="459.6" y2="407.6" stroke="#111" stroke-width="1.2" />
<line x1="443.0" y1="464.8" x2="459.6" y2="464.8" stroke="#111" stroke-width="1.2" />
<circle cx="449.6" cy="373.3" r="1.1" fill="#111"/>
<circle cx="450.0" cy="408.4" r="1.1" fill="#111"/>
<circle cx="453.7" cy="408.9" r="1.1" fill="#111"/>
<circle cx="451.3" cy="412.5" r="1.1" fill="#111"/>
<circle cx="453.0" cy="414.9" r="1.1" fill="#111"/>
<circle cx="452.0" cy="418.5" r="1.1" fill="#111"/>
<circle cx="453.0" cy="428.8" r="1.1" fill="#111"/>
<circle cx="448.9" cy="432.9" r="1.1" fill="#111"/>
<circle cx="454.9" cy="433.7" r="1.1" fill="#111"/>
<circle cx="452.0" cy="437.7" r="1.1" fill="#111"/>
<circle cx="448.9" cy="439.4" r="1.1" fill="#111"/>
<circle cx="453.7" cy="442.0" r="1.1" fill="#111"/>
<circle cx="451.3" cy="445.7" r="1.1" fill="#111"/>
<circle cx="452.5" cy="452.2" r="1.1" fill="#111"/>
<circle cx="450.0" cy="457.7" r="1.1" fill="#111"/>
<circle cx="453.7" cy="455.8" r="1.1" fill="#111"/>
<circle cx="451.3" cy="464.9" r="1.1" fill="#111"/>
<rect x="473.0" y="407.8" width="16.7" height="24.4" fill="none" stroke="#111" stroke-width="1.0"/>
<line x1="470.4" y1="426.3" x2="492.2" y2="426.3" stroke="#111" stroke-width="2" />
<line x1="481.3" y1="377.6" x2="481.3" y2="407.8" stroke="#111" stroke-width="1.0" />
<line x1="481.3" y1="432.2" x2="481.3" y2="438.9" stroke="#111" stroke-width="1.0" />
<line x1="473.6" y1="377.6" x2="489.3" y2="377.6" stroke="#111" stroke-width="1.2" />
<line x1="473.6" y1="438.9" x2="489.3" y2="438.9" stroke="#111" stroke-width="1.2" />
<circle cx="480.1" cy="401.0" r="1.1" fill="#111"/>
<circle cx="483.3" cy="402.4" r="1.1" fill="#111"/>
<circle cx="485.0" cy="410.8" r="1.1" fill="#111"/>
<circle cx="479.4" cy="420.4" r="1.1" fill="#111"/>
<circle cx="482.5" cy="422.1" r="1.1" fill="#111"/>
<circle cx="482.0" cy="424.5" r="1.1" fill="#111"/>
<circle cx="479.0" cy="430.5" r="1.1" fill="#111"/>
<circle cx="482.5" cy="431.7" r="1.1" fill="#111"/>
<circle cx="484.2" cy="432.9" r="1.1" fill="#111"/>
<circle cx="480.9" cy="435.3" r="1.1" fill="#111"/>
<circle cx="483.3" cy="436.5" r="1.1" fill="#111"/>
<circle cx="480.1" cy="439.4" r="1.1" fill="#111"/>
<text x="417.5" y="478.0" font-size="9.6" text-anchor="end" transform="rotate(-29 417.5 478.0)">HC</text>
<text x="432.0" y="479.5" font-size="9.6" text-anchor="end" transform="rotate(-29 432.0 479.5)">(<tspan font-style="italic">n</tspan> = 18)</text>
<text x="456.0" y="477.5" font-size="9.6" text-anchor="end" transform="rotate(-29 456.0 477.5)">Resectable</text>
<text x="470.0" y="480.0" font-size="9.6" text-anchor="end" transform="rotate(-29 470.0 480.0)">(<tspan font-style="italic">n</tspan> = 27)</text>
<text x="492.0" y="477.5" font-size="9.6" text-anchor="end" transform="rotate(-29 492.0 477.5)">Unresectable</text>
<text x="505.0" y="478.4" font-size="9.6" text-anchor="end" transform="rotate(-29 505.0 478.4)">(<tspan font-style="italic">n</tspan> = 20)</text>
<line x1="408.7" y1="505.6" x2="492.5" y2="505.6" stroke="#111" stroke-width="1.25" />
<text x="459.0" y="514.5" font-size="9.7" text-anchor="middle">PDAC</text>
<text x="3.5" y="536.7" font-size="14" font-weight="bold">K</text>
<text x="109.0" y="534.8" font-size="9.8" text-anchor="middle">Sandwich ELISA</text>
<rect x="33.3" y="538.8" width="155.4" height="70.2" fill="none" stroke="#111" stroke-width="1.25"/>
<text x="40.0" y="550.5" font-size="9.6">PDAC serum</text>
<text x="10.8" y="583.0" font-size="9.5" text-anchor="middle" transform="rotate(-90 10.8 583.0)">CKAP4 (ng/mL)</text>
<line x1="33.3" y1="560.0" x2="36.8" y2="560.0" stroke="#111" stroke-width="1.25" />
<line x1="185.2" y1="560.0" x2="188.7" y2="560.0" stroke="#111" stroke-width="1.25" />
<line x1="33.3" y1="572.4" x2="36.8" y2="572.4" stroke="#111" stroke-width="1.25" />
<line x1="185.2" y1="572.4" x2="188.7" y2="572.4" stroke="#111" stroke-width="1.25" />
<line x1="33.3" y1="584.8" x2="36.8" y2="584.8" stroke="#111" stroke-width="1.25" />
<line x1="185.2" y1="584.8" x2="188.7" y2="584.8" stroke="#111" stroke-width="1.25" />
<line x1="33.3" y1="597.0" x2="36.8" y2="597.0" stroke="#111" stroke-width="1.25" />
<line x1="185.2" y1="597.0" x2="188.7" y2="597.0" stroke="#111" stroke-width="1.25" />
<text x="31.5" y="563.5" font-size="9.6" text-anchor="end">400</text>
<text x="31.5" y="575.9" font-size="9.6" text-anchor="end">300</text>
<text x="31.5" y="588.3" font-size="9.6" text-anchor="end">200</text>
<text x="31.5" y="600.5" font-size="9.6" text-anchor="end">100</text>
<text x="31.5" y="612.5" font-size="9.6" text-anchor="end">0</text>
<rect x="44.0" y="554.7" width="5.8" height="54.3" fill="#000" stroke="none" stroke-width="1.25"/>
<rect x="82.3" y="596.5" width="5.5" height="12.5" fill="#000" stroke="none" stroke-width="1.25"/>
<rect x="120.2" y="597.5" width="5.8" height="11.5" fill="#000" stroke="none" stroke-width="1.25"/>
<rect x="158.8" y="601.0" width="5.8" height="8.0" fill="#000" stroke="none" stroke-width="1.25"/>
<line x1="59.5" y1="608.5" x2="66.5" y2="608.5" stroke="#111" stroke-width="0.8" />
<line x1="97.5" y1="608.5" x2="104.5" y2="608.5" stroke="#111" stroke-width="0.8" />
<line x1="135.5" y1="608.5" x2="142.5" y2="608.5" stroke="#111" stroke-width="0.8" />
<line x1="173.5" y1="608.5" x2="180.5" y2="608.5" stroke="#111" stroke-width="0.8" />
<text x="43.2" y="617.8" font-size="9.6" text-anchor="middle">pre</text>
<text x="63.2" y="617.8" font-size="9.6" text-anchor="middle">post</text>
<line x1="33.7" y1="621.5" x2="67.7" y2="621.5" stroke="#555" stroke-width="0.8" />
<text x="50.5" y="631.0" font-size="9.6" text-anchor="middle">PDAC</text>
<text x="50.0" y="642.5" font-size="9.6" text-anchor="middle">#1</text>
<text x="81.5" y="617.8" font-size="9.6" text-anchor="middle">pre</text>
<text x="101.5" y="617.8" font-size="9.6" text-anchor="middle">post</text>
<line x1="72.0" y1="621.5" x2="106.0" y2="621.5" stroke="#555" stroke-width="0.8" />
<text x="88.0" y="631.0" font-size="9.6" text-anchor="middle">PDAC</text>
<text x="87.5" y="642.5" font-size="9.6" text-anchor="middle">#2</text>
<text x="120.1" y="617.8" font-size="9.6" text-anchor="middle">pre</text>
<text x="140.1" y="617.8" font-size="9.6" text-anchor="middle">post</text>
<line x1="110.6" y1="621.5" x2="144.6" y2="621.5" stroke="#555" stroke-width="0.8" />
<text x="130.3" y="632.0" font-size="9.6" text-anchor="middle">PDAC</text>
<text x="129.8" y="643.5" font-size="9.6" text-anchor="middle">#3</text>
<text x="159.5" y="617.8" font-size="9.6" text-anchor="middle">pre</text>
<text x="179.5" y="617.8" font-size="9.6" text-anchor="middle">post</text>
<line x1="150.0" y1="621.5" x2="184.0" y2="621.5" stroke="#555" stroke-width="0.8" />
<text x="167.8" y="631.0" font-size="9.6" text-anchor="middle">PDAC</text>
<text x="167.3" y="642.5" font-size="9.6" text-anchor="middle">#4</text>
<text x="221.0" y="537.0" font-size="14" font-weight="bold">L</text>
<text x="283.0" y="538.3" font-size="9.6" text-anchor="middle">PDAC#1</text>
<line x1="258.0" y1="541.5" x2="308.0" y2="541.5" stroke="#444" stroke-width="0.9" />
<text x="267.0" y="551.8" font-size="9.6" text-anchor="middle">pre</text>
<text x="301.5" y="551.8" font-size="9.6" text-anchor="middle">post</text>
<text x="344.3" y="538.3" font-size="9.6" text-anchor="middle">PDAC#2</text>
<line x1="318.0" y1="541.5" x2="368.0" y2="541.5" stroke="#444" stroke-width="0.9" />
<text x="327.0" y="551.8" font-size="9.6" text-anchor="middle">pre</text>
<text x="362.0" y="551.8" font-size="9.6" text-anchor="middle">post</text>
<text x="404.6" y="539.8" font-size="9.6" text-anchor="middle">PDAC#3</text>
<line x1="379.6" y1="543.5" x2="429.6" y2="543.5" stroke="#444" stroke-width="0.9" />
<text x="387.3" y="553.3" font-size="9.6" text-anchor="middle">pre</text>
<text x="422.0" y="553.3" font-size="9.6" text-anchor="middle">post</text>
<text x="469.3" y="538.3" font-size="9.6" text-anchor="middle">PDAC#4</text>
<line x1="442.3" y1="541.5" x2="492.3" y2="541.5" stroke="#444" stroke-width="0.9" />
<text x="452.3" y="551.8" font-size="9.6" text-anchor="middle">pre</text>
<text x="487.0" y="551.8" font-size="9.6" text-anchor="middle">post</text>
<text x="250.5" y="566.5" font-size="9.6" text-anchor="end">CKAP4</text>
<text x="251.5" y="575.7" font-size="9.6" text-anchor="end">(exosomes)</text>
<text x="250.5" y="597.0" font-size="9.6" text-anchor="end">Clathrin</text>
<text x="251.5" y="606.0" font-size="9.6" text-anchor="end">(exosomes)</text>
<defs><filter id="bl" x="-20%" y="-50%" width="140%" height="200%"><feGaussianBlur stdDeviation="0.8"/></filter><filter id="bl2" x="-20%" y="-50%" width="140%" height="200%"><feGaussianBlur stdDeviation="1.3"/></filter><filter id="bl3" x="-30%" y="-60%" width="160%" height="220%"><feGaussianBlur stdDeviation="2.2"/></filter>
<linearGradient id="g1" x1="0" y1="0" x2="0" y2="1"><stop offset="0" stop-color="#b4b4b4"/><stop offset="1" stop-color="#9e9e9e"/></linearGradient>
<linearGradient id="g2" x1="0" y1="0" x2="1" y2="1"><stop offset="0" stop-color="#b2b2b2"/><stop offset="0.5" stop-color="#9c9c9c"/><stop offset="1" stop-color="#8e8e8e"/></linearGradient>
<radialGradient id="g3" cx="0.55" cy="0.35" r="0.7"><stop offset="0" stop-color="#cccccc"/><stop offset="1" stop-color="#adadad"/></radialGradient>
<clipPath id="c0a"><rect x="253" y="557" width="57.5" height="23.4"/></clipPath><clipPath id="c0b"><rect x="253" y="588.3" width="57.5" height="22.7"/></clipPath>
<clipPath id="c1a"><rect x="313.2" y="557" width="57.80000000000001" height="23.4"/></clipPath><clipPath id="c1b"><rect x="313.2" y="588.3" width="57.80000000000001" height="22.7"/></clipPath>
<clipPath id="c2a"><rect x="375.2" y="557" width="56.80000000000001" height="23.4"/></clipPath><clipPath id="c2b"><rect x="375.2" y="588.3" width="56.80000000000001" height="22.7"/></clipPath>
<clipPath id="c3a"><rect x="437" y="557" width="57" height="23.4"/></clipPath><clipPath id="c3b"><rect x="437" y="588.3" width="57" height="22.7"/></clipPath>
</defs>
<rect x="253.0" y="557.0" width="57.5" height="23.4" fill="url(#g1)" stroke="none" stroke-width="1.25"/>
<rect x="253.0" y="588.3" width="57.5" height="22.7" fill="#a5a5a5" stroke="none" stroke-width="1.25"/>
<rect x="313.2" y="557.0" width="57.8" height="23.4" fill="#a2a2a2" stroke="none" stroke-width="1.25"/>
<rect x="313.2" y="588.3" width="57.8" height="22.7" fill="url(#g2)" stroke="none" stroke-width="1.25"/>
<rect x="375.2" y="557.0" width="56.8" height="23.4" fill="#b0b0b0" stroke="none" stroke-width="1.25"/>
<rect x="375.2" y="588.3" width="56.8" height="22.7" fill="#a9a9a9" stroke="none" stroke-width="1.25"/>
<rect x="437.0" y="557.0" width="57.0" height="23.4" fill="#a8a8a8" stroke="none" stroke-width="1.25"/>
<rect x="437.0" y="588.3" width="57.0" height="22.7" fill="url(#g3)" stroke="none" stroke-width="1.25"/>
<g clip-path="url(#c0a)"><rect x="252.0" y="566.6" width="17.8" height="4.2" rx="2.1" fill="#0a0a0a" opacity="1" filter="url(#bl)"/></g>
<g><rect x="292.5" y="564.7" width="16.2" height="3.6" rx="1.8" fill="#555" opacity="0.55" filter="url(#bl2)"/></g>
<g><rect x="316.5" y="566.7" width="19.3" height="6.6" rx="3.3" fill="#0a0a0a" opacity="1" filter="url(#bl)"/></g>
<g><rect x="351.7" y="566.1" width="16.3" height="5.2" rx="2.6" fill="#222" opacity="0.8" filter="url(#bl2)"/></g>
<g><rect x="381.0" y="568.4" width="12.0" height="3.8" rx="1.9" fill="#1a1a1a" opacity="0.95" filter="url(#bl)"/></g>
<g><rect x="417.6" y="569.1" width="12.4" height="3.8" rx="1.9" fill="#444" opacity="0.65" filter="url(#bl2)"/></g>
<g clip-path="url(#c3a)"><rect x="436.0" y="568.2" width="16.4" height="3.6" rx="1.8" fill="#1a1a1a" opacity="0.95" filter="url(#bl)"/></g>
<g><rect x="474.5" y="566.3" width="16.5" height="3.4" rx="1.7" fill="#555" opacity="0.6" filter="url(#bl2)"/></g>
<g><rect x="254.8" y="598.2" width="14.2" height="3.6" rx="1.8" fill="#0a0a0a" opacity="1" filter="url(#bl)"/></g>
<g><rect x="291.0" y="597.3" width="15.0" height="3.4" rx="1.7" fill="#0a0a0a" opacity="1" filter="url(#bl)"/></g>
<g><rect x="317.5" y="597.9" width="18.3" height="6.2" rx="3.1" fill="#0a0a0a" opacity="1" filter="url(#bl)"/></g>
<g><rect x="351.0" y="597.4" width="18.5" height="5.8" rx="2.9" fill="#0a0a0a" opacity="1" filter="url(#bl)"/></g>
<g><rect x="378.8" y="598.6" width="14.0" height="3.8" rx="1.9" fill="#0a0a0a" opacity="1" filter="url(#bl)"/></g>
<g><rect x="417.6" y="597.8" width="13.8" height="3.4" rx="1.7" fill="#0a0a0a" opacity="1" filter="url(#bl)"/></g>
<g><rect x="439.0" y="599.6" width="16.5" height="7.2" rx="3.6" fill="#000" opacity="1" filter="url(#bl)"/></g>
<g clip-path="url(#c3b)"><rect x="477.0" y="598.0" width="19.0" height="5.2" rx="2.6" fill="#000" opacity="1" filter="url(#bl)"/></g>
<circle cx="478.5" cy="601.5" r="2.6" fill="#000" filter="url(#bl)"/>
<g clip-path="url(#c1b)"><ellipse cx="357" cy="610" rx="14" ry="6" fill="#1c1c1c" opacity="0.8" filter="url(#bl3)"/></g>
<rect x="253.0" y="557.0" width="57.5" height="23.4" fill="none" stroke="#000" stroke-width="1.5"/>
<rect x="253.0" y="588.3" width="57.5" height="22.7" fill="none" stroke="#000" stroke-width="1.5"/>
<rect x="313.2" y="557.0" width="57.8" height="23.4" fill="none" stroke="#000" stroke-width="1.5"/>
<rect x="313.2" y="588.3" width="57.8" height="22.7" fill="none" stroke="#000" stroke-width="1.5"/>
<rect x="375.2" y="557.0" width="56.8" height="23.4" fill="none" stroke="#000" stroke-width="1.5"/>
<rect x="375.2" y="588.3" width="56.8" height="22.7" fill="none" stroke="#000" stroke-width="1.5"/>
<rect x="437.0" y="557.0" width="57.0" height="23.4" fill="none" stroke="#000" stroke-width="1.5"/>
<rect x="437.0" y="588.3" width="57.0" height="22.7" fill="none" stroke="#000" stroke-width="1.5"/>
<text x="495.5" y="560.5" font-size="9.6">KDa</text>
<line x1="494.3" y1="577.2" x2="497.0" y2="577.2" stroke="#111" stroke-width="1.1" />
<text x="497.3" y="580.8" font-size="9.4">50</text>
<line x1="494.3" y1="606.2" x2="497.0" y2="606.2" stroke="#111" stroke-width="1.1" />
<text x="497.3" y="609.6" font-size="9.4" textLength="14.2" lengthAdjust="spacingAndGlyphs">150</text>
<line x1="248.0" y1="615.5" x2="500.8" y2="615.5" stroke="#444" stroke-width="0.9" />
<text x="382.4" y="626.4" font-size="9.9" text-anchor="middle">(Magcapture exosome isolation kit)</text>
</svg>
</body></html>
